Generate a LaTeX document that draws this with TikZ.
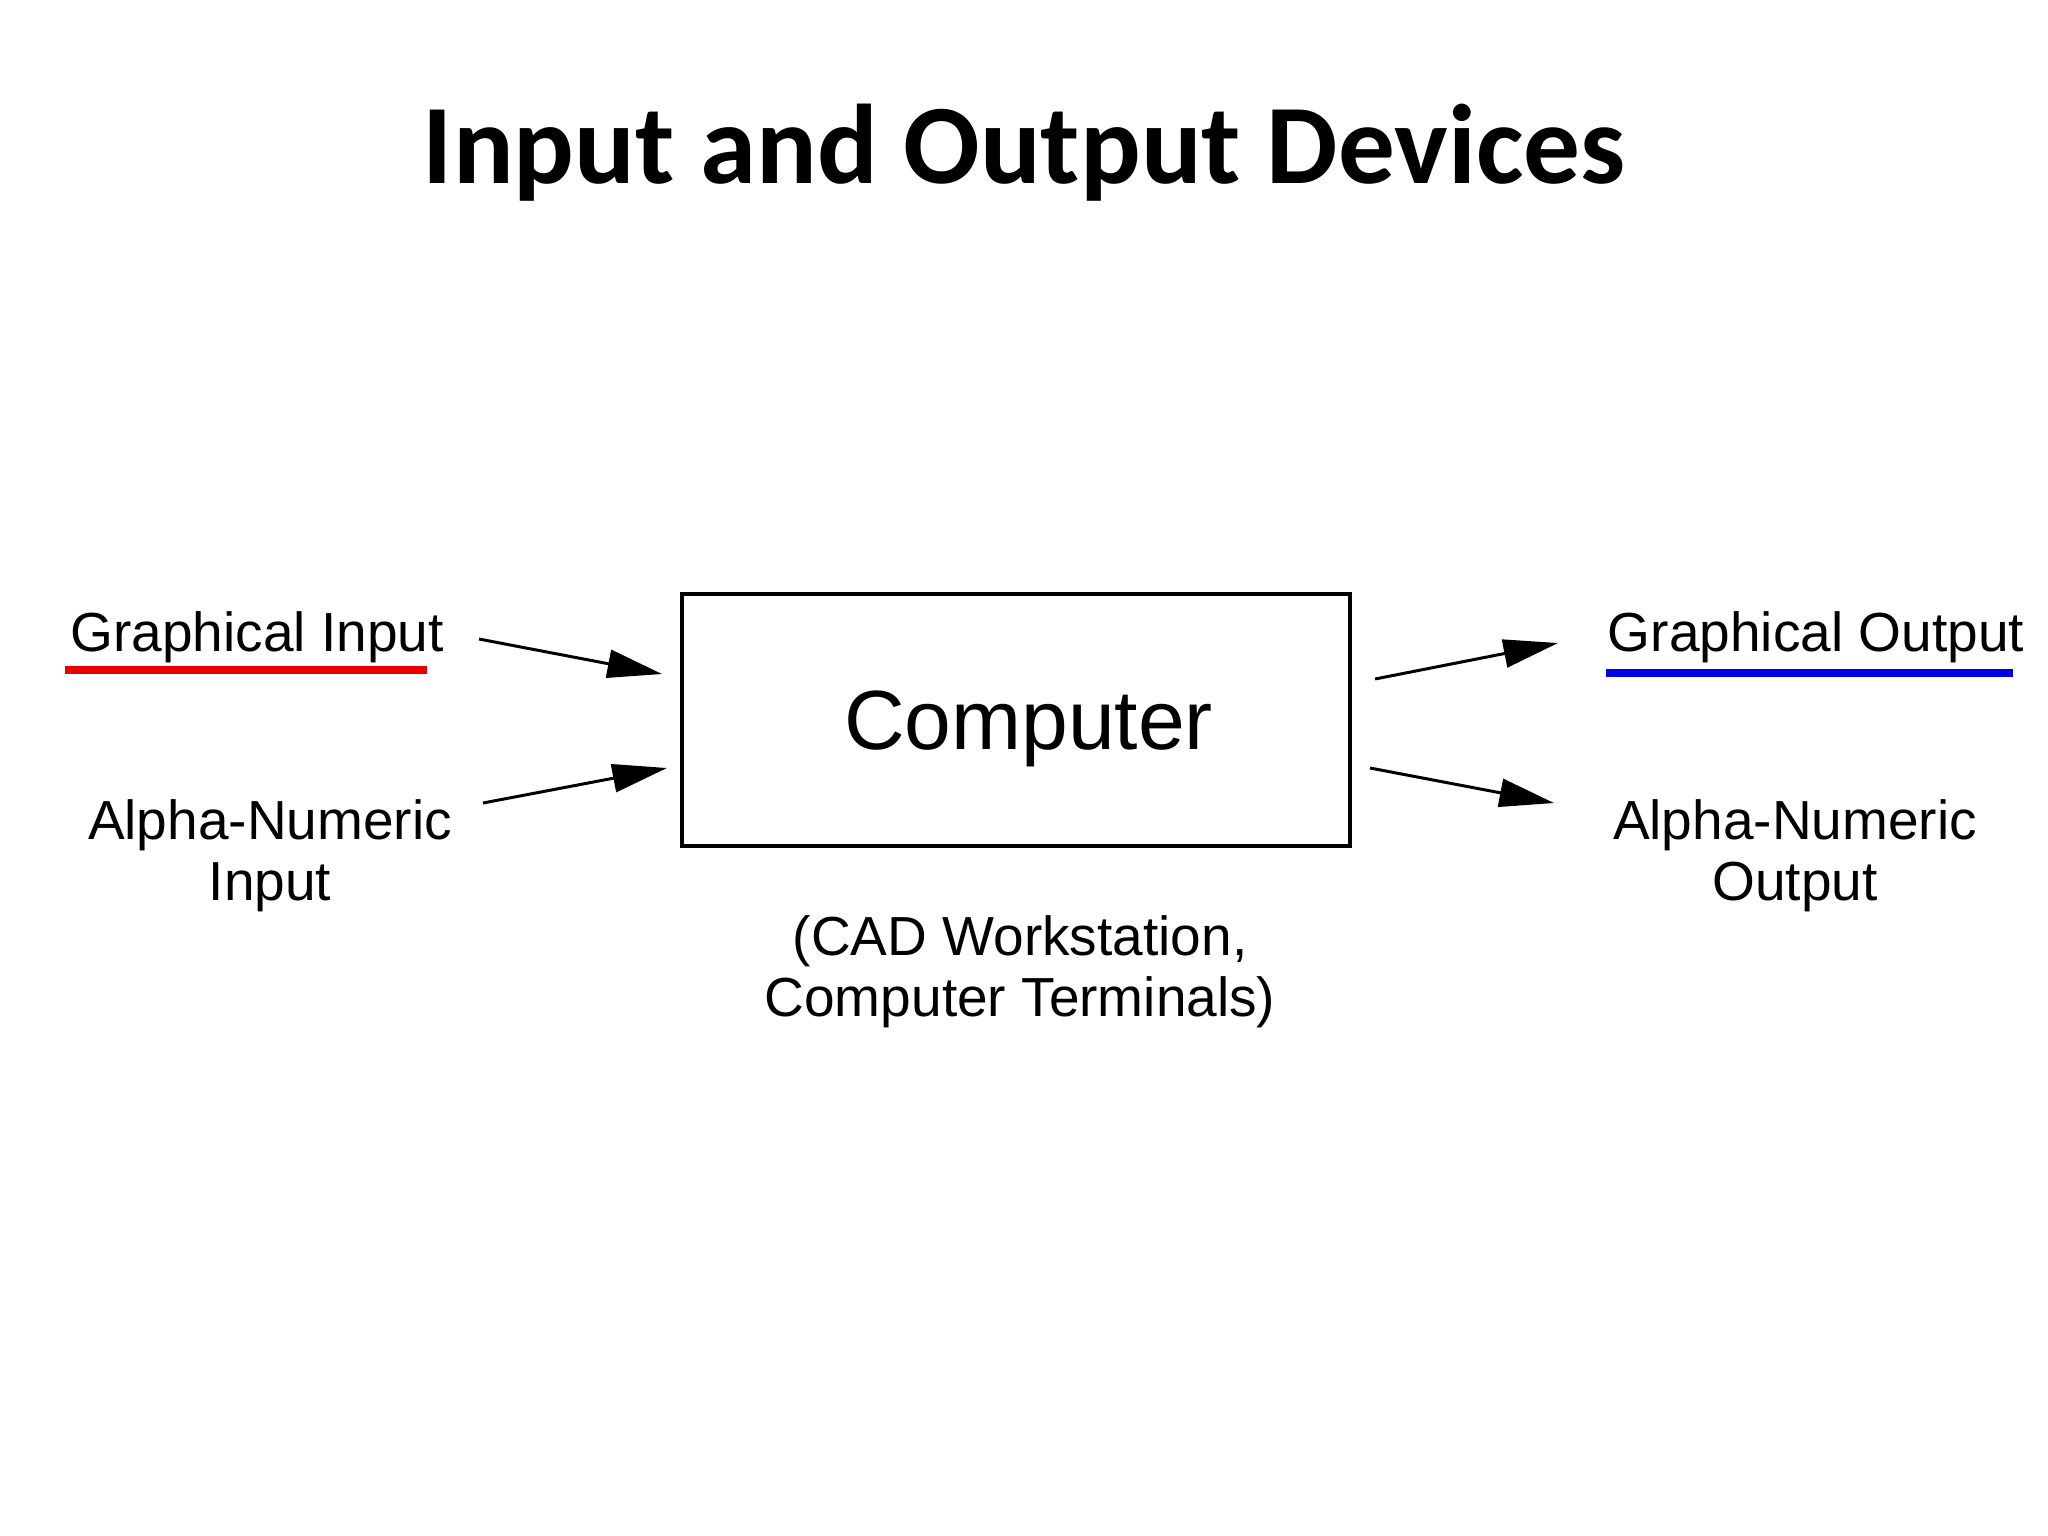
\documentclass[tikz,border=0pt]{standalone}
\usepackage{fontspec}
\setmainfont{Liberation Sans}
\newfontfamily\headfont{Carlito}
\usetikzlibrary{arrows.meta,positioning}
\definecolor{inred}{RGB}{232,0,0}
\definecolor{outblue}{RGB}{0,0,232}

\begin{document}
\begin{tikzpicture}[x=0.01cm, y=-0.01cm,
  heading/.style={anchor=base, inner sep=0pt,
    font=\fontsize{32.2pt}{36pt}\selectfont\headfont\bfseries},
  unit/.style={draw=black, line width=1.1pt, minimum width=6.68cm,
    minimum height=2.52cm, text depth=0pt,
    font=\fontsize{23.9pt}{26pt}\selectfont},
  devtext/.style={anchor=base, align=center, inner sep=0pt,
    font=\fontsize{15.65pt}{17.1pt}\selectfont},
  edge/.style={-{Triangle[length=15.5pt,width=8pt]}, draw=black,
    line width=.85pt},
  bar/.style={line width=2.3pt}
]
\useasboundingbox (0,0) rectangle (2048,1536);

\node[heading] (title) at (1024,183) {Input and Output Devices};

\node[unit] (comp) at (1016,720) {\hspace*{.25cm}Computer};
\node[devtext] (cad) at (1020,1016) {(CAD Workstation,\\Computer Terminals)};

% inputs
\node[devtext] (gin) at (257,651) {Graphical Input};
\node[devtext] (anin) at (270,900) {Alpha-Numeric\\Input};
\draw[bar, inred] (65,670) -- (427,670);

% outputs
\node[devtext] (gout) at (1816,651) {Graphical Output};
\node[devtext] (anout) at (1795,900) {Alpha-Numeric\\Output};
\draw[bar, outblue] (1606,673) -- (2013,673);

\coordinate (gin-tail) at (479,639);
\coordinate (gin-head) at (662,674);
\coordinate (anin-tail) at (483,803);
\coordinate (anin-head) at (667,768);
\coordinate (gout-tail) at (1375,679);
\coordinate (gout-head) at (1558,643);
\coordinate (anout-tail) at (1370,768);
\coordinate (anout-head) at (1554,803);

\draw[edge] (gin-tail) -- (gin-head);
\draw[edge] (anin-tail) -- (anin-head);
\draw[edge] (gout-tail) -- (gout-head);
\draw[edge] (anout-tail) -- (anout-head);
\end{tikzpicture}
\end{document}
